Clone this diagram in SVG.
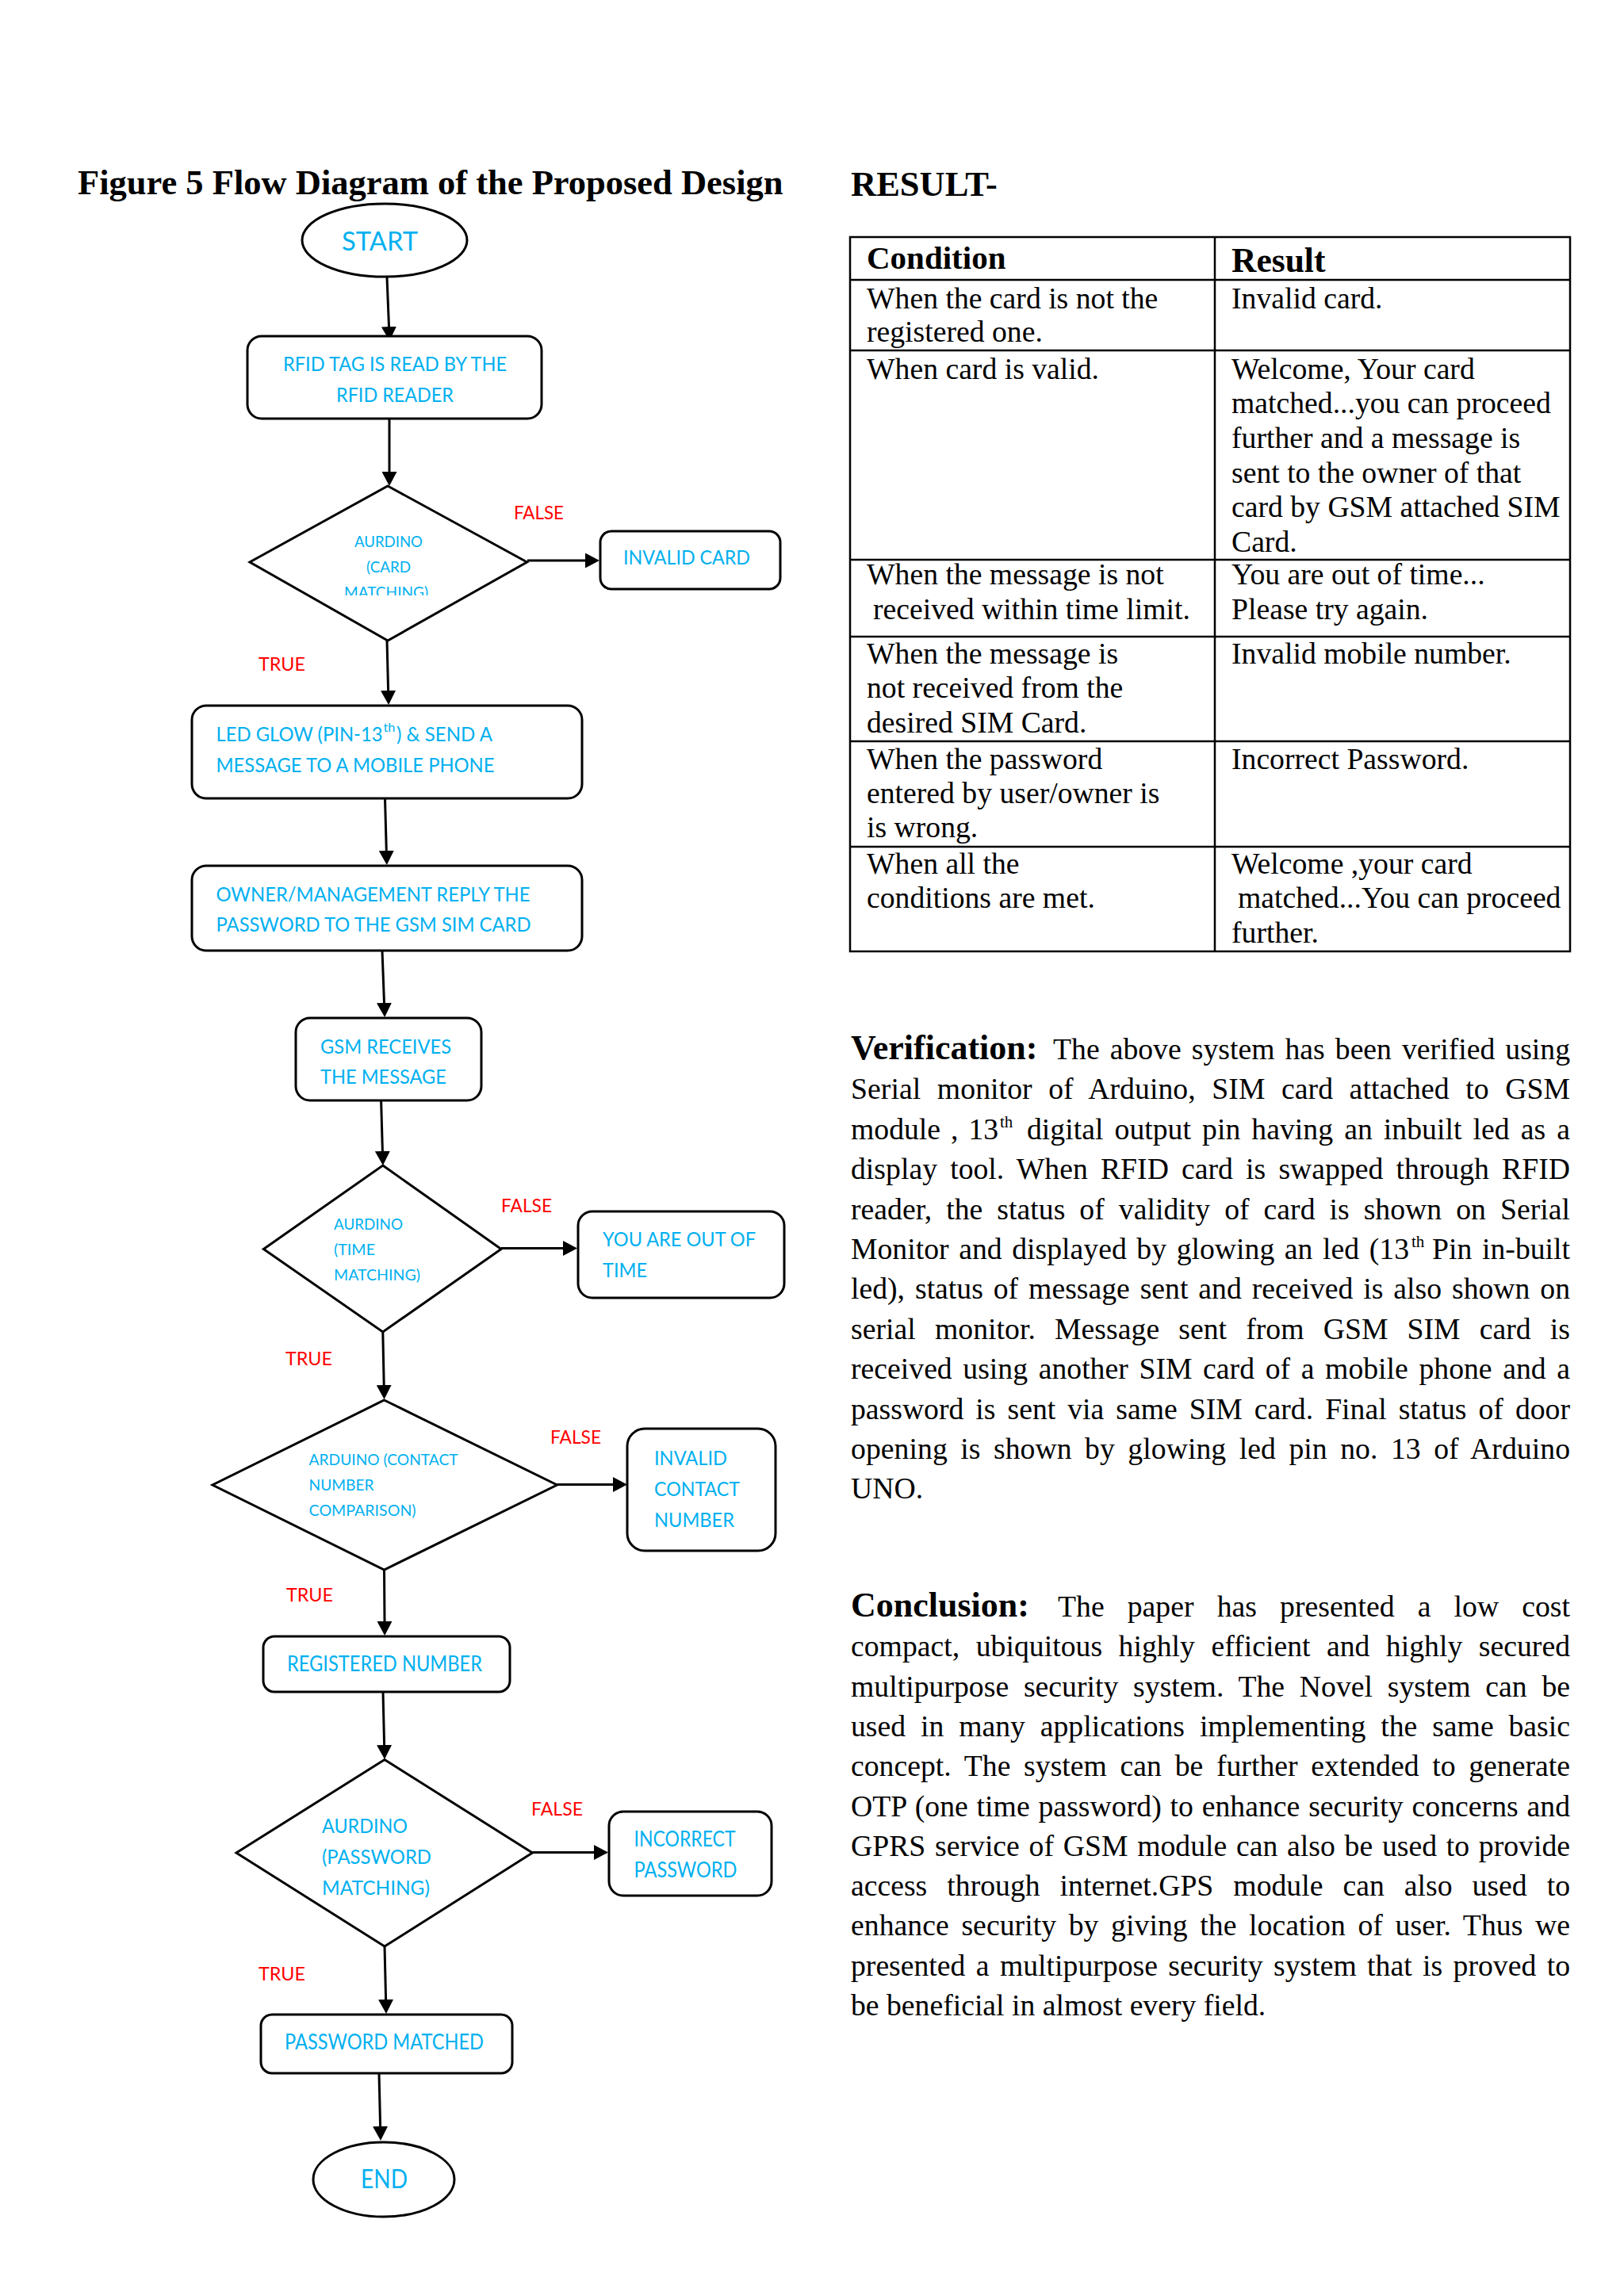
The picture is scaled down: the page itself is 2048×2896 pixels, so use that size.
<svg xmlns="http://www.w3.org/2000/svg" width="2048" height="2896" viewBox="0 0 2048 2896">
<style>
.box{fill:#fff;stroke:#000;stroke-width:3}
.lbl{font-family:Lato,"Open Sans","Liberation Sans",sans-serif;fill:#00B0F0}
.red{font-family:Lato,"Open Sans","Liberation Sans",sans-serif;fill:#FF0000;font-size:24px}
.conn{stroke:#000;stroke-width:3;fill:none;marker-end:url(#arr)}
.serif{font-family:"Liberation Serif","Times New Roman",serif;fill:#000}
.body{font-size:37.7px}
.bold{font-weight:bold}
.tbl{stroke:#000;stroke-width:2.5;fill:none}
</style>
<defs>
<marker id="arr" viewBox="0 0 18 19" refX="0" refY="9.5" markerWidth="18" markerHeight="19" markerUnits="userSpaceOnUse" orient="auto">
<path d="M0,0 L18,9.5 L0,19 Z" fill="#000"/>
</marker>
<clipPath id="clipD1"><rect x="400" y="660" width="180" height="91"/></clipPath>
</defs>
<rect x="0" y="0" width="2048" height="2896" fill="#fff"/>

<!-- Headings -->
<text class="serif bold" x="98" y="245" font-size="44.5">Figure 5 Flow Diagram of the Proposed Design</text>
<text class="serif bold" x="1073" y="247" font-size="44.5">RESULT-</text>

<!-- Connectors -->
<g id="connectors">
<path class="conn" d="M488,350 L490.5,412"/>
<path class="conn" d="M491,528 L491,595"/>
<path class="conn" d="M665,707 L738,707"/>
<path class="conn" d="M488,808 L489.6,871"/>
<path class="conn" d="M485.5,1007 L487.3,1073"/>
<path class="conn" d="M482,1199 L484.5,1265"/>
<path class="conn" d="M480.6,1388 L482.4,1452"/>
<path class="conn" d="M632,1574.5 L710,1574.5"/>
<path class="conn" d="M482.8,1680 L484.2,1747"/>
<path class="conn" d="M702.5,1872.5 L773,1872.5"/>
<path class="conn" d="M484.5,1980 L485,2045"/>
<path class="conn" d="M483,2134 L484.6,2201"/>
<path class="conn" d="M671.4,2336.5 L749,2336.5"/>
<path class="conn" d="M485,2455 L486.6,2522"/>
<path class="conn" d="M478,2615 L479.6,2682"/>
</g>
<g id="edge-labels">
<text class="red" x="648" y="655" textLength="63" lengthAdjust="spacingAndGlyphs">FALSE</text>
<text class="red" x="326" y="846" textLength="59" lengthAdjust="spacingAndGlyphs">TRUE</text>
<text class="red" x="632" y="1529" textLength="64" lengthAdjust="spacingAndGlyphs">FALSE</text>
<text class="red" x="360" y="1722" textLength="59" lengthAdjust="spacingAndGlyphs">TRUE</text>
<text class="red" x="694" y="1821" textLength="64" lengthAdjust="spacingAndGlyphs">FALSE</text>
<text class="red" x="361" y="2020" textLength="59" lengthAdjust="spacingAndGlyphs">TRUE</text>
<text class="red" x="670" y="2290" font-size="26" textLength="65" lengthAdjust="spacingAndGlyphs">FALSE</text>
<text class="red" x="326" y="2498" font-size="26" textLength="59" lengthAdjust="spacingAndGlyphs">TRUE</text>
</g>

<!-- Nodes -->
<g id="node-start">
<ellipse class="box" cx="485" cy="303" rx="104" ry="46"/>
<text class="lbl" x="431" y="316" font-size="33" textLength="96" lengthAdjust="spacingAndGlyphs">START</text>
</g>
<g id="node-rfid">
<rect class="box" x="312" y="424" width="371" height="104" rx="18"/>
<text class="lbl" x="357" y="468" font-size="24.5" textLength="282" lengthAdjust="spacingAndGlyphs">RFID TAG IS READ BY THE</text>
<text class="lbl" x="424" y="507" font-size="24.5" textLength="148" lengthAdjust="spacingAndGlyphs">RFID READER</text>
</g>
<g id="node-card-check">
<polygon class="box" points="489,613 664.6,709 489,808 315,709"/>
<text class="lbl" x="447" y="690" font-size="20" textLength="86" lengthAdjust="spacingAndGlyphs">AURDINO</text>
<text class="lbl" x="462" y="722" font-size="20" textLength="56" lengthAdjust="spacingAndGlyphs">(CARD</text>
<text class="lbl" x="434" y="754" font-size="20" textLength="106" lengthAdjust="spacingAndGlyphs" clip-path="url(#clipD1)">MATCHING)</text>
</g>
<g id="node-invalid-card">
<rect class="box" x="757" y="670" width="227" height="73" rx="14"/>
<text class="lbl" x="786" y="712" font-size="24.5" textLength="160" lengthAdjust="spacingAndGlyphs">INVALID CARD</text>
</g>
<g id="node-led">
<rect class="box" x="242" y="890" width="492" height="117" rx="18"/>
<text class="lbl" x="272.5" y="934.5" font-size="24.5" textLength="210" lengthAdjust="spacingAndGlyphs">LED GLOW (PIN-13</text>
<text class="lbl" x="483.5" y="923" font-size="16" textLength="15" lengthAdjust="spacingAndGlyphs">th</text>
<text class="lbl" x="500" y="934.5" font-size="24.5" textLength="121" lengthAdjust="spacingAndGlyphs">) &amp; SEND A</text>
<text class="lbl" x="272.5" y="974" font-size="24.5" textLength="351" lengthAdjust="spacingAndGlyphs">MESSAGE TO A MOBILE PHONE</text>
</g>
<g id="node-owner">
<rect class="box" x="242" y="1092" width="492" height="107" rx="18"/>
<text class="lbl" x="272.5" y="1137" font-size="24.5" textLength="396" lengthAdjust="spacingAndGlyphs">OWNER/MANAGEMENT REPLY THE</text>
<text class="lbl" x="272.5" y="1175" font-size="24.5" textLength="397" lengthAdjust="spacingAndGlyphs">PASSWORD TO THE GSM SIM CARD</text>
</g>
<g id="node-gsm">
<rect class="box" x="373" y="1284" width="234" height="104" rx="18"/>
<text class="lbl" x="404" y="1329" font-size="24.5" textLength="165" lengthAdjust="spacingAndGlyphs">GSM RECEIVES</text>
<text class="lbl" x="404" y="1367" font-size="24.5" textLength="159" lengthAdjust="spacingAndGlyphs">THE MESSAGE</text>
</g>
<g id="node-time-check">
<polygon class="box" points="482.8,1470 632,1575.5 482.8,1680 332.4,1575.5"/>
<text class="lbl" x="421" y="1551" font-size="20" textLength="87" lengthAdjust="spacingAndGlyphs">AURDINO</text>
<text class="lbl" x="421" y="1583" font-size="20" textLength="52" lengthAdjust="spacingAndGlyphs">(TIME</text>
<text class="lbl" x="421" y="1614.5" font-size="20" textLength="109" lengthAdjust="spacingAndGlyphs">MATCHING)</text>
</g>
<g id="node-out-of-time">
<rect class="box" x="729" y="1528" width="260" height="109" rx="18"/>
<text class="lbl" x="760" y="1572" font-size="24.5" textLength="193" lengthAdjust="spacingAndGlyphs">YOU ARE OUT OF</text>
<text class="lbl" x="760" y="1611" font-size="24.5" textLength="56" lengthAdjust="spacingAndGlyphs">TIME</text>
</g>
<g id="node-contact-check">
<polygon class="box" points="484.5,1766 702.5,1873 484.5,1980 268,1873"/>
<text class="lbl" x="389.6" y="1848" font-size="20" textLength="188" lengthAdjust="spacingAndGlyphs">ARDUINO (CONTACT</text>
<text class="lbl" x="389.6" y="1879.6" font-size="20" textLength="82" lengthAdjust="spacingAndGlyphs">NUMBER</text>
<text class="lbl" x="389.6" y="1911.5" font-size="20" textLength="135" lengthAdjust="spacingAndGlyphs">COMPARISON)</text>
</g>
<g id="node-invalid-contact">
<rect class="box" x="791" y="1802" width="187" height="154" rx="22"/>
<text class="lbl" x="825" y="1848" font-size="24.5" textLength="92" lengthAdjust="spacingAndGlyphs">INVALID</text>
<text class="lbl" x="825" y="1887" font-size="24.5" textLength="108" lengthAdjust="spacingAndGlyphs">CONTACT</text>
<text class="lbl" x="825" y="1926" font-size="24.5" textLength="101" lengthAdjust="spacingAndGlyphs">NUMBER</text>
</g>
<g id="node-registered">
<rect class="box" x="332" y="2064" width="311" height="70" rx="14"/>
<text class="lbl" x="362" y="2107.5" font-size="26" textLength="246" lengthAdjust="spacingAndGlyphs">REGISTERED NUMBER</text>
</g>
<g id="node-password-check">
<polygon class="box" points="485,2219.5 671.4,2337 485,2455 298,2337"/>
<text class="lbl" x="406" y="2311.8" font-size="25.5" textLength="108" lengthAdjust="spacingAndGlyphs">AURDINO</text>
<text class="lbl" x="406" y="2351" font-size="25.5" textLength="138" lengthAdjust="spacingAndGlyphs">(PASSWORD</text>
<text class="lbl" x="406" y="2389.7" font-size="25.5" textLength="136" lengthAdjust="spacingAndGlyphs">MATCHING)</text>
</g>
<g id="node-incorrect-password">
<rect class="box" x="768" y="2285" width="205" height="106" rx="18"/>
<text class="lbl" x="799.5" y="2329" font-size="26" textLength="128" lengthAdjust="spacingAndGlyphs">INCORRECT</text>
<text class="lbl" x="799.5" y="2367.7" font-size="26" textLength="130" lengthAdjust="spacingAndGlyphs">PASSWORD</text>
</g>
<g id="node-password-matched">
<rect class="box" x="329" y="2541" width="317" height="74" rx="14"/>
<text class="lbl" x="359" y="2584.6" font-size="26" textLength="251" lengthAdjust="spacingAndGlyphs">PASSWORD MATCHED</text>
</g>
<g id="node-end">
<ellipse class="box" cx="484" cy="2749" rx="89" ry="47"/>
<text class="lbl" x="455" y="2760" font-size="32" textLength="59" lengthAdjust="spacingAndGlyphs">END</text>
</g>

<!-- Result table -->
<g id="result-table">
<rect class="tbl" x="1072" y="299" width="908" height="901"/>
<line class="tbl" x1="1532" y1="299" x2="1532" y2="1200"/>
<line class="tbl" x1="1072" y1="353" x2="1980" y2="353"/>
<line class="tbl" x1="1072" y1="442" x2="1980" y2="442"/>
<line class="tbl" x1="1072" y1="706" x2="1980" y2="706"/>
<line class="tbl" x1="1072" y1="803" x2="1980" y2="803"/>
<line class="tbl" x1="1072" y1="935" x2="1980" y2="935"/>
<line class="tbl" x1="1072" y1="1068" x2="1980" y2="1068"/>
<text class="serif bold" x="1093" y="339" font-size="41">Condition</text>
<text class="serif bold" x="1553" y="343" font-size="43.5">Result</text>
<g class="serif body">
<text x="1093" y="388.5">When the card is not the</text>
<text x="1093" y="430.5">registered one.</text>
<text x="1553" y="388.5">Invalid card.</text>
<text x="1093" y="477.5">When card is valid.</text>
<text x="1553" y="477.5">Welcome, Your card</text>
<text x="1553" y="521">matched...you can proceed</text>
<text x="1553" y="564.5">further and a message is</text>
<text x="1553" y="608.5">sent to the owner of that</text>
<text x="1553" y="652">card by GSM attached SIM</text>
<text x="1553" y="695.5">Card.</text>
<text x="1093" y="737">When the message is not</text>
<text x="1101" y="781">received within time limit.</text>
<text x="1553" y="737">You are out of time...</text>
<text x="1553" y="781">Please try again.</text>
<text x="1093" y="837">When the message is</text>
<text x="1093" y="880">not received from the</text>
<text x="1093" y="923.5">desired SIM Card.</text>
<text x="1553" y="837">Invalid mobile number.</text>
<text x="1093" y="970">When the password</text>
<text x="1093" y="1013">entered by user/owner is</text>
<text x="1093" y="1056">is wrong.</text>
<text x="1553" y="970">Incorrect Password.</text>
<text x="1093" y="1102">When all the</text>
<text x="1093" y="1145">conditions are met.</text>
<text x="1553" y="1102">Welcome ,your card</text>
<text x="1561" y="1145">matched...You can proceed</text>
<text x="1553" y="1188.5">further.</text>
</g>
</g>

<!-- Verification paragraph -->
<g id="verification" class="serif body">
<text class="bold" x="1073" y="1336" font-size="44">Verification:</text>
<text x="1328" y="1336" word-spacing="3.6" textLength="652" lengthAdjust="spacing">The above system has been verified using</text>
<text x="1073" y="1386.4" word-spacing="11" textLength="907" lengthAdjust="spacing">Serial monitor of Arduino, SIM card attached to GSM</text>
<text x="1073" y="1436.8" word-spacing="3.5" textLength="186" lengthAdjust="spacing">module , 13</text>
<text x="1261" y="1422" font-size="21">th</text>
<text x="1295" y="1436.8" word-spacing="4.7" textLength="685" lengthAdjust="spacing">digital output pin having an inbuilt led as a</text>
<text x="1073" y="1487.2" word-spacing="6.7" textLength="907" lengthAdjust="spacing">display tool. When RFID card is swapped through RFID</text>
<text x="1073" y="1537.6" word-spacing="8.5" textLength="907" lengthAdjust="spacing">reader, the status of validity of card is shown on Serial</text>
<text x="1073" y="1588" word-spacing="3.2" textLength="704" lengthAdjust="spacing">Monitor and displayed by glowing an led (13</text>
<text x="1780" y="1573" font-size="21">th</text>
<text x="1806" y="1588" word-spacing="3.3" textLength="174" lengthAdjust="spacing">Pin in-built</text>
<text x="1073" y="1638.4" word-spacing="3.5" textLength="907" lengthAdjust="spacing">led), status of message sent and received is also shown on</text>
<text x="1073" y="1688.8" word-spacing="14.6" textLength="907" lengthAdjust="spacing">serial monitor. Message sent from GSM SIM card is</text>
<text x="1073" y="1739.2" word-spacing="4.2" textLength="907" lengthAdjust="spacing">received using another SIM card of a mobile phone and a</text>
<text x="1073" y="1789.6" word-spacing="5.6" textLength="907" lengthAdjust="spacing">password is sent via same SIM card. Final status of door</text>
<text x="1073" y="1840" word-spacing="7" textLength="907" lengthAdjust="spacing">opening is shown by glowing led pin no. 13 of Arduino</text>
<text x="1073" y="1890.4">UNO.</text>
</g>

<!-- Conclusion paragraph -->
<g id="conclusion" class="serif body">
<text class="bold" x="1073" y="2039" font-size="44">Conclusion:</text>
<text x="1334" y="2039" word-spacing="19.7" textLength="646" lengthAdjust="spacing">The paper has presented a low cost</text>
<text x="1073" y="2089.3" word-spacing="11" textLength="907" lengthAdjust="spacing">compact, ubiquitous highly efficient and highly secured</text>
<text x="1073" y="2139.6" word-spacing="9.3" textLength="907" lengthAdjust="spacing">multipurpose security system. The Novel system can be</text>
<text x="1073" y="2189.9" word-spacing="9.4" textLength="907" lengthAdjust="spacing">used in many applications implementing the same basic</text>
<text x="1073" y="2240.2" word-spacing="7.2" textLength="907" lengthAdjust="spacing">concept. The system can be further extended to generate</text>
<text x="1073" y="2290.5" word-spacing="1.3" textLength="907" lengthAdjust="spacing">OTP (one time password) to enhance security concerns and</text>
<text x="1073" y="2340.8" word-spacing="2.3" textLength="907" lengthAdjust="spacing">GPRS service of GSM module can also be used to provide</text>
<text x="1073" y="2391.1" word-spacing="15.6" textLength="907" lengthAdjust="spacing">access through internet.GPS module can also used to</text>
<text x="1073" y="2441.4" word-spacing="6.1" textLength="907" lengthAdjust="spacing">enhance security by giving the location of user. Thus we</text>
<text x="1073" y="2491.7" word-spacing="4" textLength="907" lengthAdjust="spacing">presented a multipurpose security system that is proved to</text>
<text x="1073" y="2542">be beneficial in almost every field.</text>
</g>
</svg>
